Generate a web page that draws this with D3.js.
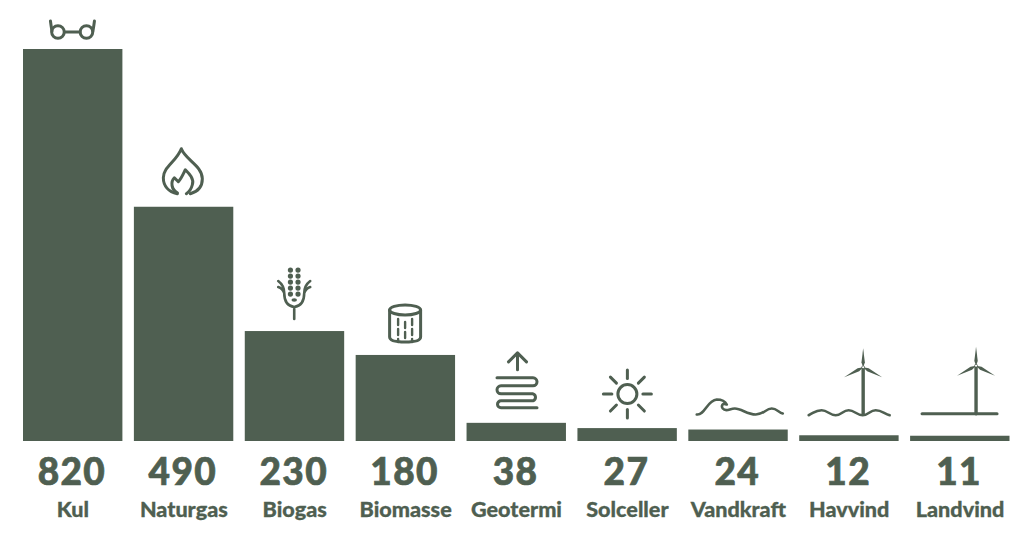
<!DOCTYPE html>
<html><head><meta charset="utf-8">
<script src="https://cdn.jsdelivr.net/npm/d3@7"></script>
<style>html,body{margin:0;padding:0;background:#fff}svg{display:block}</style>
</head><body><div id="c"></div>
<script>
const categories = ["Kul","Naturgas","Biogas","Biomasse","Geotermi","Solceller","Vandkraft","Havvind","Landvind"];
const values = [820,490,230,180,38,27,24,12,11];
const iconNames = ["coal","gas","corn","log","geo","sun","wave","offshore","onshore"];
const color = "#4f5f51";
const W=1024,H=537;
const svg=d3.select("#c").append("svg").attr("width",W).attr("height",H);
const x=d3.scaleBand().domain(categories).range([23,1010]).paddingInner(0.0991).paddingOuter(0);
const y=d3.scaleLinear().domain([0,820]).range([441,49]);

svg.selectAll("rect.bar").data(values).join("rect").attr("class","bar")
  .attr("x",(d,i)=>x(categories[i])).attr("width",x.bandwidth()-0.5)
  .attr("y",d=>y(d)).attr("height",d=>y(0)-y(d)).attr("fill",color);

svg.selectAll("text.val").data(values).join("text").attr("class","val")
  .attr("x",(d,i)=>x(categories[i])+x.bandwidth()/2-1).attr("y",485)
  .attr("text-anchor","middle").attr("font-family","Lato").attr("font-weight",900)
  .attr("font-size",37).attr("letter-spacing",1.4).attr("fill",color)
  .attr("stroke",color).attr("stroke-width",0.7).text(d=>d);

const axis=d3.axisBottom(x).tickSize(0).tickPadding(0);
const ax=svg.append("g").attr("transform","translate(0,501)").call(axis);
ax.select(".domain").remove();
ax.selectAll("text").attr("font-family","Lato").attr("font-weight",900)
  .attr("font-size",21.6).attr("fill",color).attr("stroke",color).attr("stroke-width",0.3).attr("dy","0.72em");

function blade(g,hx,hy,tx,ty){
  const dx=tx-hx,dy=ty-hy,l=Math.hypot(dx,dy),nx=-dy/l,ny=dx/l,w=1.7;
  const mx=hx+dx*.25,my=hy+dy*.25;
  g.append("path").attr("fill",color).attr("stroke","none")
   .attr("d",`M${hx},${hy}L${mx+nx*w},${my+ny*w}L${tx},${ty}L${mx-nx*w},${my-ny*w}Z`);
}
function turbine(g,hx,hy,base){
  g.append("path").attr("d",`M${hx},${hy}V${base}`).attr("stroke-width",3.4);
  blade(g,hx,hy,hx,hy-19);
  blade(g,hx,hy,hx-19,hy+10);
  blade(g,hx,hy,hx+19,hy+10);
  g.append("circle").attr("cx",hx).attr("cy",hy).attr("r",1.1).attr("fill","#fff").attr("stroke","none");
}
const icons={
  coal(g){
    g.append("circle").attr("cx",-14.5).attr("cy",-17).attr("r",6.3);
    g.append("circle").attr("cx",14).attr("cy",-17).attr("r",6.3);
    g.append("path").attr("d","M-8,-17H7.5M-20.5,-18C-21,-21 -21.5,-24 -22,-28M20.5,-18C21,-21 21.5,-24 22,-28").attr("stroke-width",3);
  },
  gas(g){
    g.append("path").attr("d","M-6,-13C-15,-15 -20,-21 -20,-29C-20,-40 -7,-45 -2,-58C2,-47 19,-41 19,-28C19,-20 14,-15 7,-13");
    g.append("path").attr("d","M-6,-14C-12,-17 -13,-25 -9,-29L-5,-25C-2,-28 0,-33 2,-37C6,-33 11,-28 9,-22C8,-18 6,-15 3,-13");
  },
  corn(g){
    [-61,-55,-49,-43,-37].forEach(cy=>[-3.8,3.8].forEach(cx=>
      g.append("circle").attr("cx",cx).attr("cy",cy).attr("r",2.6).attr("fill",color).attr("stroke","none")));
    g.append("ellipse").attr("cx",0).attr("cy",-31).attr("rx",2.8).attr("ry",1.8).attr("fill",color).attr("stroke","none");
    g.append("path").attr("d","M0,-12V-24M0,-24C-7,-25 -10,-30 -10,-38C-10,-43 -12,-47 -16,-50M-10,-38C-11,-41 -13,-43 -16,-44M0,-24C7,-25 10,-30 10,-38C10,-43 12,-47 16,-50M10,-38C11,-41 13,-43 16,-44").attr("stroke-width",2.6);
  },
  log(g){
    g.append("ellipse").attr("cx",0).attr("cy",-45).attr("rx",15.5).attr("ry",5);
    g.append("path").attr("d","M-15.5,-45V-18C-15.5,-14 -8,-13 0,-13C8,-13 15.5,-14 15.5,-18V-45");
    g.append("path").attr("d","M-7,-36V-13M7,-36V-13M0,-33V-13").attr("stroke-width",2.4).attr("stroke-dasharray","6 4");
  },
  geo(g){
    g.append("path").attr("d","M1.5,-70V-53M-7.5,-61L1.5,-70L10.5,-61");
    g.append("path").attr("d","M-19,-45H17A4,4 0 0 1 17,-37H-15A4,4 0 0 0 -15,-29H17A3.7,3.7 0 0 1 17,-22H-15A3.5,3.5 0 0 0 -15,-15H21");
  },
  sun(g){
    const cy=-34;
    g.append("circle").attr("cx",0.5).attr("cy",cy).attr("r",9.5);
    d3.range(8).forEach(k=>{
      const a=k*Math.PI/4,c=Math.cos(a),s=Math.sin(a);
      g.append("line").attr("x1",.5+15.5*c).attr("y1",cy+15.5*s).attr("x2",.5+24*c).attr("y2",cy+24*s);
    });
  },
  wave(g){
    g.append("path").attr("d","M-41,-15C-33,-14 -31,-29 -21,-30C-17,-30 -13,-29 -11,-25C-15,-27 -17,-24 -15,-21C-12,-17 -8,-21 -3,-21C4,-21 9,-15 18,-15C26,-15 28,-21 34,-21C39,-21 41,-17 45,-16").attr("stroke-width",2.6);
  },
  offshore(g){
    turbine(g,14.5,-68,-21);
    g.append("path").attr("d","M-40,-20C-34,-23 -33,-25 -27,-25C-21,-25 -19,-20 -13,-20C-7,-20 -6,-25 0,-25C6,-25 8,-20 14,-20C20,-20 21,-25 27,-25C33,-25 35,-22 41,-20").attr("stroke-width",2.6);
  },
  onshore(g){
    turbine(g,16.5,-70,-22);
    g.append("path").attr("d","M-37.5,-22H37.5").attr("stroke-width",3);
  }
};
values.forEach((v,i)=>{
  const g=svg.append("g")
    .attr("transform",`translate(${x(categories[i])+x.bandwidth()/2-0.5},${y(v)})`)
    .attr("fill","none").attr("stroke",color).attr("stroke-width",3)
    .attr("stroke-linecap","round").attr("stroke-linejoin","round");
  icons[iconNames[i]](g);
});
</script></body></html>
